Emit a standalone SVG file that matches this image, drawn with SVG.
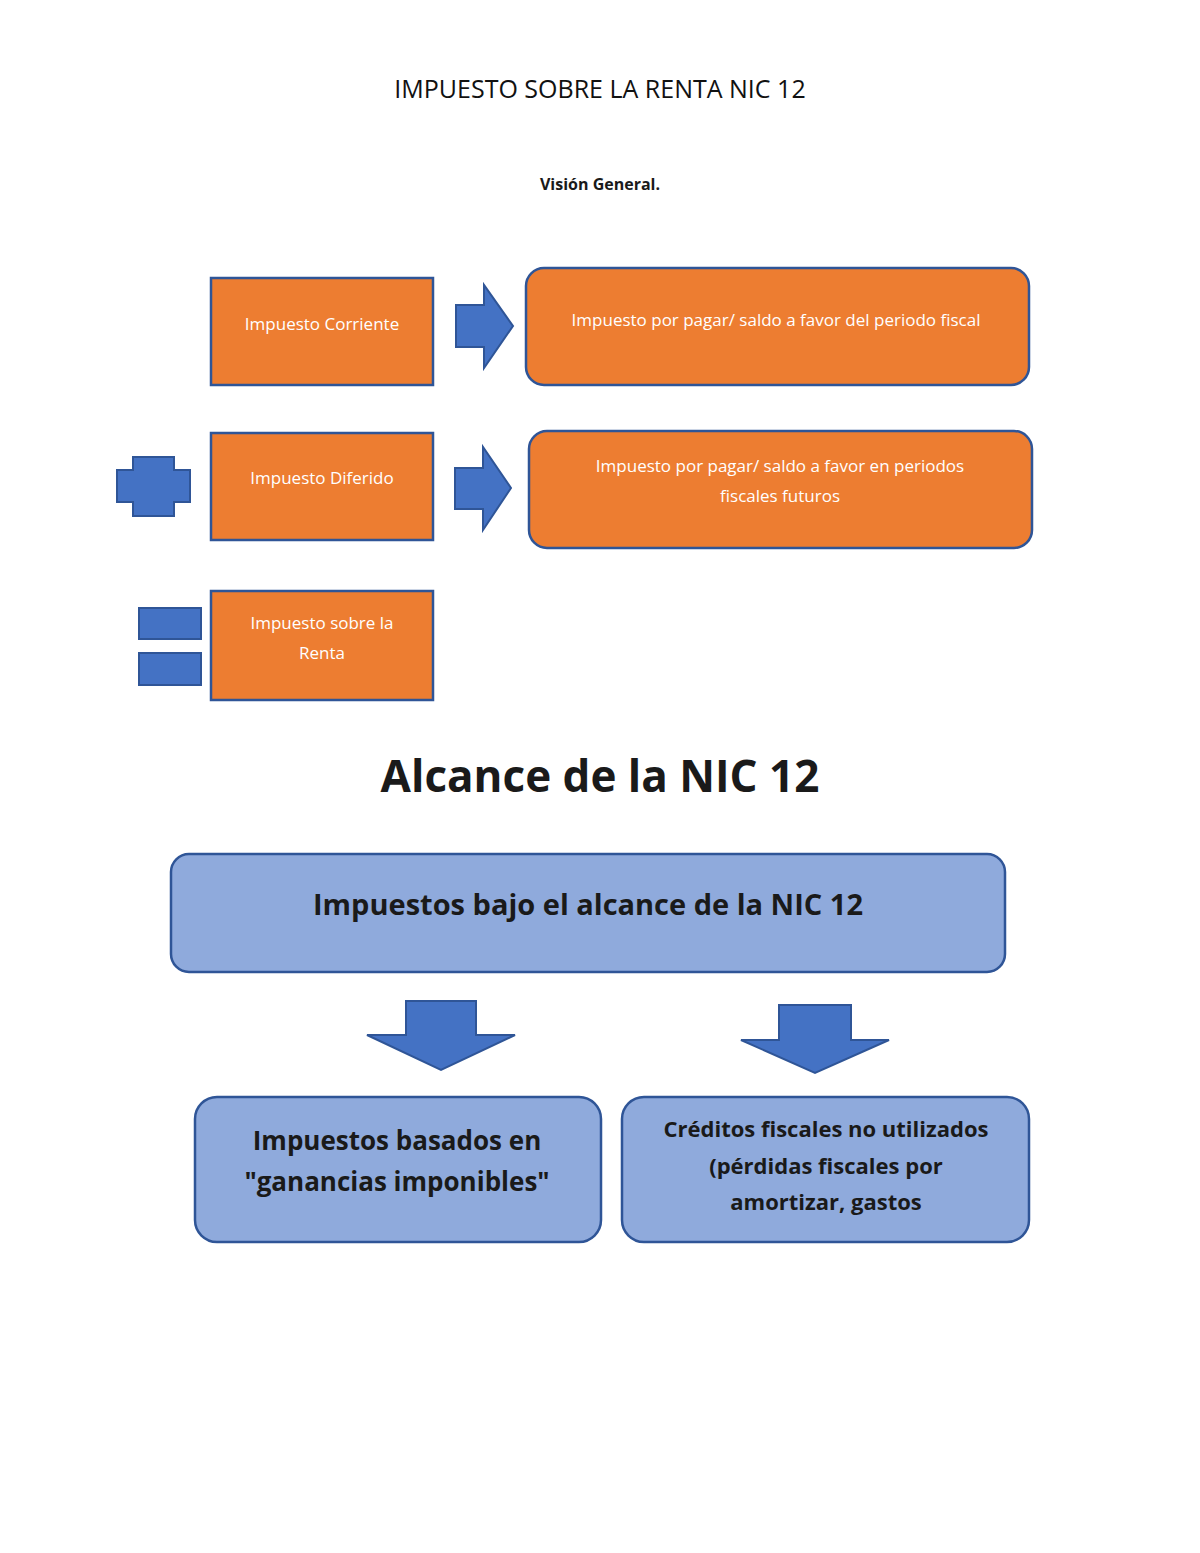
<svg xmlns="http://www.w3.org/2000/svg" width="1200" height="1553" viewBox="0 0 1200 1553">
<style>
text{font-family:"Open Sans","Liberation Sans",sans-serif;text-anchor:middle}
.o{fill:#ED7D31;stroke:#2F5597;stroke-width:2.5}
.b{fill:#8FAADC;stroke:#2F5597;stroke-width:2.5}
.a{fill:#4472C4;stroke:#2F5597;stroke-width:2}
.w{fill:#fff;font-size:17px}
.k{fill:#1a1a1a;font-weight:bold}
</style>
<rect width="1200" height="1553" fill="#fff"/>
<text x="600" y="98" font-size="25" fill="#111">IMPUESTO SOBRE LA RENTA NIC 12</text>
<text x="600" y="190" font-size="16" class="k">Visión General.</text>
<g id="connectors">
<path class="a" d="M456,305H484V285L513,326L484,368V347H456Z"/>
<path class="a" d="M455,468H483V447L511,488L483,530V509H455Z"/>
<path class="a" d="M406,1001H476V1035H515L441,1070L367,1035H406Z"/>
<path class="a" d="M779,1005H851V1040H889L815,1073L741,1040H779Z"/>
</g>
<g id="plus"><path class="a" d="M133,457H174V470H190V502H174V516H133V502H117V470H133Z"/></g>
<g id="equals"><rect class="a" x="139" y="608" width="62" height="31"/><rect class="a" x="139" y="653" width="62" height="32"/></g>
<g id="n1"><rect class="o" x="211" y="278" width="222" height="107"/><text class="w" x="322" y="330">Impuesto Corriente</text></g>
<g id="n2"><rect class="o" x="526" y="268" width="503" height="117" rx="18"/><text class="w" x="776" y="326">Impuesto por pagar/ saldo a favor del periodo fiscal</text></g>
<g id="n3"><rect class="o" x="211" y="433" width="222" height="107"/><text class="w" x="322" y="484">Impuesto Diferido</text></g>
<g id="n4"><rect class="o" x="529" y="431" width="503" height="117" rx="18"/><text class="w" x="780" y="472">Impuesto por pagar/ saldo a favor en periodos</text><text class="w" x="780" y="502">fiscales futuros</text></g>
<g id="n5"><rect class="o" x="211" y="591" width="222" height="109"/><text class="w" x="322" y="629">Impuesto sobre la</text><text class="w" x="322" y="659">Renta</text></g>
<text x="600" y="792" font-size="44" class="k">Alcance de la NIC 12</text>
<g id="n6"><rect class="b" x="171" y="854" width="834" height="118" rx="18"/><text x="588" y="915" font-size="29" class="k">Impuestos bajo el alcance de la NIC 12</text></g>
<g id="n7"><rect class="b" x="195" y="1097" width="406" height="145" rx="22"/><text x="397" y="1150" font-size="26" class="k">Impuestos basados en</text><text x="397" y="1191" font-size="26" class="k">"ganancias imponibles"</text></g>
<g id="n8"><rect class="b" x="622" y="1097" width="407" height="145" rx="22"/><text x="826" y="1137" font-size="22" class="k">Créditos fiscales no utilizados</text><text x="826" y="1174" font-size="22" class="k">(pérdidas fiscales por</text><text x="826" y="1210" font-size="22" class="k">amortizar, gastos</text></g>
</svg>
